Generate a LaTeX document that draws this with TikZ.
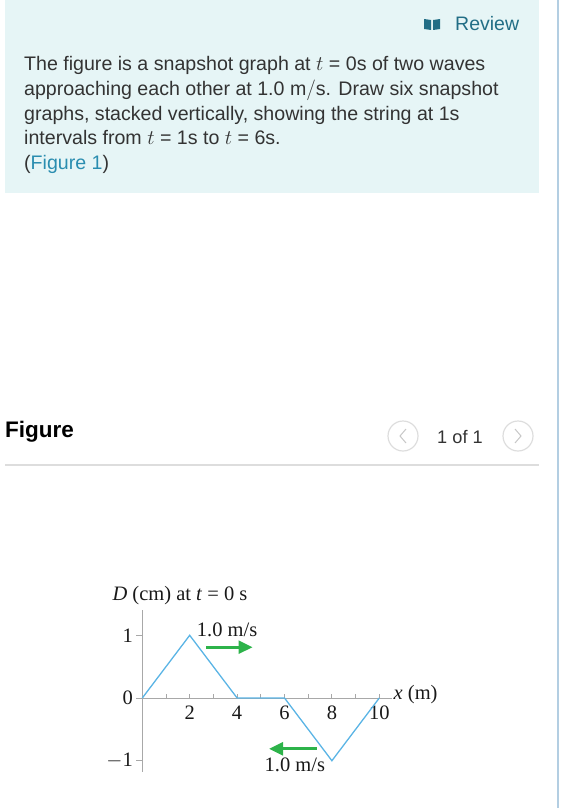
\documentclass[tikz,border=0pt]{standalone}
\usepackage{fontspec}
\setmainfont{Liberation Sans}
\newfontfamily\graphfont{Liberation Serif}
\usetikzlibrary{arrows.meta}
\definecolor{panel}{HTML}{E6F5F6}
\definecolor{bodytext}{HTML}{333333}
\definecolor{reviewcol}{HTML}{226E86}
\definecolor{linkcol}{HTML}{2A8DB0}
\definecolor{rulegray}{HTML}{DDDDDD}
\definecolor{sideblue}{HTML}{B3CEE2}
\definecolor{wavecol}{HTML}{5AB4E5}
\definecolor{arrowgreen}{HTML}{2DB34A}
\definecolor{axisgray}{HTML}{A8A8A8}

\begin{document}
\begin{tikzpicture}[
		x=1pt, y=-1pt,
		every node/.style={inner sep=0pt, text=bodytext},
		navbtn/.style={draw=rulegray, line width=1.2pt},
		chevron/.style={draw=black!22, line width=1pt},
		axis/.style={draw=axisgray, line width=0.9pt},
		wave/.style={draw=wavecol, line width=1.3pt, line join=miter},
		speed/.style={draw=arrowgreen, line width=2.6pt, -{Triangle[length=14pt, width=13pt]}},
		gtext/.style={font=\graphfont\fontsize{20.5}{22}\selectfont, text=black!90}
	]
	\useasboundingbox (0,0) rectangle (562,808);

	% question panel
	\fill[panel] (5,0) rectangle (539,193);
	\draw[sideblue, line width=1.5pt] (558,0) -- (558,808);
	\fill[reviewcol] (424,19) -- (431,20) -- (431,30) -- (424,29) -- cycle;
	\fill[reviewcol] (433,20) -- (440,19) -- (440,29) -- (433,30) -- cycle;
	\node[anchor=west, text=reviewcol, font=\fontsize{19.5}{22}\selectfont] (review) at (455,24) {Review};
	\node[anchor=north west, align=left, font=\fontsize{19.6}{24.6}\selectfont] (question) at (24,56.5) {%
		The figure is a snapshot graph at $t$ = 0$\mathrm{s}$ of two waves\\
		approaching each other at 1.0 $\mathrm{m/s}$. Draw six snapshot\\
		graphs, stacked vertically, showing the string at 1$\mathrm{s}$\\
		intervals from $t$ = 1$\mathrm{s}$ to $t$ = 6$\mathrm{s}$.\\
		(\textcolor{linkcol}{Figure 1})};

	% figure header
	\node[anchor=west, font=\bfseries\fontsize{22.5}{24}\selectfont, text=black] (figtitle) at (5,432) {Figure};
	\draw[navbtn] (403,436) circle (15);
	\draw[chevron] (406,429) -- (400,436) -- (406,443);
	\node[font=\fontsize{18.2}{20}\selectfont] (pager) at (460,437) {1 of 1};
	\draw[navbtn] (518,436) circle (15);
	\draw[chevron] (515,429) -- (521,436) -- (515,443);
	\draw[rulegray, line width=1.5pt] (5,465) -- (539,465);

	% snapshot graph
	\begin{scope}[shift={(142.3,698)}, x=23.7pt, y=62.7pt]
		\coordinate (O) at (0,0);
		\coordinate (xend) at (10.55,0);
		\coordinate (ytop) at (0,1.4);
		\coordinate (ybot) at (0,-1.18);
		\draw[axis] (ybot) -- (ytop);
		\draw[axis] (O) -- (xend);
		\foreach \i in {1,...,10}
			\draw[axis] (\i,0) -- (\i,0.07);
		\foreach \v in {-1,0,1}
			\draw[axis] (-0.25,\v) -- (0,\v);
		\foreach \i in {2,4,...,10}
			\node[gtext, anchor=north] (xl\i) at (\i,-0.12) {\i};
		\node[gtext, anchor=east] (ylp) at (-0.39,1) {1};
		\node[gtext, anchor=east] (ylz) at (-0.39,0) {0};
		\node[gtext, anchor=east] (ylm) at (-0.39,-1) {$-$1};
		\node[gtext, anchor=west] (xlab) at (10.6,0.05) {\textit{x} (m)};
		\node[gtext] (ylab) at (1.59,1.64) {\textit{D} (cm) at \textit{t} = 0 s};
		\draw[wave] (0,0) -- (2,1) -- (4,0) -- (6,0) -- (8,-1) -- (10,0);
		\node[gtext] (vright) at (3.58,1.09) {1.0 m/s};
		\coordinate (ra) at (2.69,0.81);
		\coordinate (rb) at (4.65,0.81);
		\draw[speed] (ra) -- (rb);
		\coordinate (la) at (7.36,-0.81);
		\coordinate (lb) at (5.35,-0.81);
		\draw[speed] (la) -- (lb);
		\node[gtext] (vleft) at (6.44,-1.06) {1.0 m/s};
	\end{scope}
\end{tikzpicture}
\end{document}
